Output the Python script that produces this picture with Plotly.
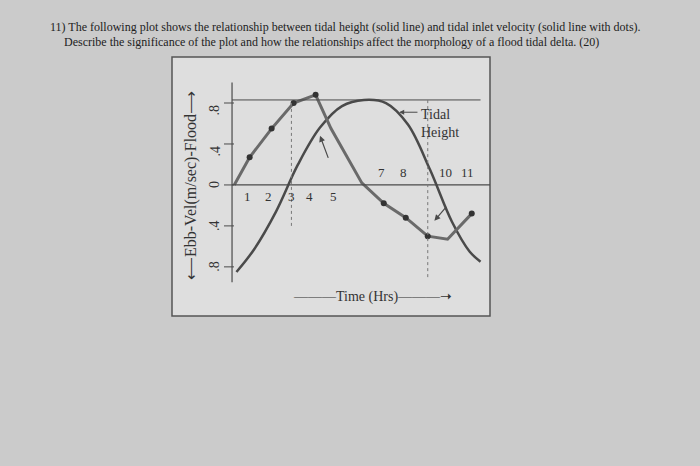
import plotly.graph_objects as go

# ---- data ----
vel_hours = [0.1, 0.8, 1.8, 2.8, 3.8, 4.5, 5.9, 6.9, 7.9, 8.9, 9.8, 10.9]
vel_values = [0.0, 0.27, 0.55, 0.8, 0.88, 0.55, 0.02, -0.18, -0.32, -0.5, -0.53, -0.28]
vel_dot_hours = [0.8, 1.8, 2.8, 3.8, 6.9, 7.9, 8.9, 10.9]
vel_dot_values = [0.27, 0.55, 0.8, 0.88, -0.18, -0.32, -0.5, -0.28]

tide_hours = [0.2, 1, 2, 3, 4, 5, 6, 7, 8, 9, 10, 10.8, 11.3]
tide_values = [-0.85, -0.63, -0.26, 0.2, 0.56, 0.77, 0.83, 0.8, 0.59, 0.15, -0.36, -0.65, -0.75]

yticks = [0.8, 0.4, 0, -0.4, -0.8]
ytick_text = [".8", ".4", "0", ".4", ".8"]
hour_labels_below = ["1", "2", "3", "4", "5"]
hour_pos_below = [0.7, 1.65, 2.7, 3.5, 4.6]
hour_labels_above = ["7", "8", "10", "11"]
hour_pos_above = [6.8, 7.8, 9.7, 10.7]

W, H = 700, 466
def px(x):
    return x / W
def py(y):
    return 1 - y / H

Y0, Y1 = -1.27, 1.22
def vy(v):
    return py(315) + (v - Y0) / (Y1 - Y0) * (py(60) - py(315))

serif = "Liberation Serif"
ink = "#4a4a4a"

fig = go.Figure()
fig.add_trace(go.Scatter(x=tide_hours, y=tide_values, mode="lines",
                         line=dict(color=ink, width=2.5, shape="spline"), hoverinfo="skip"))
fig.add_trace(go.Scatter(x=vel_hours, y=vel_values, mode="lines",
                         line=dict(color="#6a6a6a", width=3), hoverinfo="skip"))
fig.add_trace(go.Scatter(x=vel_dot_hours, y=vel_dot_values, mode="markers",
                         marker=dict(color="#333", size=6), hoverinfo="skip"))

shapes = [
    dict(type="rect", xref="paper", yref="paper", x0=px(172), x1=px(490), y0=py(316), y1=py(57),
         line=dict(color="#555", width=1.5), fillcolor="#dedede", layer="below"),
    dict(type="line", xref="x", yref="y", x0=0, x1=11.8, y0=0, y1=0, line=dict(color=ink, width=1.2)),
    dict(type="line", xref="x", yref="y", x0=0, x1=11.3, y0=0.83, y1=0.83, line=dict(color=ink, width=1)),
    dict(type="line", xref="x", yref="y", x0=2.7, x1=2.7, y0=-0.4, y1=0.83, line=dict(color="#777", width=1, dash="dot")),
    dict(type="line", xref="x", yref="y", x0=8.9, x1=8.9, y0=-0.9, y1=0.83, line=dict(color="#777", width=1, dash="dot")),
    dict(type="line", xref="x", yref="y", x0=0, x1=0, y0=-0.95, y1=1.0, line=dict(color=ink, width=1.2)),
]

ann = [
    dict(xref="paper", yref="paper", x=px(48), y=py(18), text="11) The following plot shows the relationship between tidal height (solid line) and tidal inlet velocity (solid line with dots).",
         showarrow=False, xanchor="left", font=dict(family=serif, size=12, color="#222")),
    dict(xref="paper", yref="paper", x=px(62), y=py(33), text="Describe the significance of the plot and how the relationships affect the morphology of a flood tidal delta. (20)",
         showarrow=False, xanchor="left", font=dict(family=serif, size=12, color="#222")),
    dict(xref="paper", yref="paper", x=px(191), y=py(186), text="⟵Ebb-Vel(m/sec)-Flood⟶", textangle=-90,
         xanchor="center", showarrow=False, font=dict(family=serif, size=16, color="#333")),
    dict(xref="paper", yref="paper", x=px(372), y=py(297), text="———Time (Hrs)———➝",
         showarrow=False, font=dict(family=serif, size=14, color="#333")),
    dict(xref="x", yref="y", x=8.5, y=0.6, text="Tidal<br>Height", align="left", xanchor="left",
         showarrow=False, font=dict(family=serif, size=14, color="#333")),
    dict(xref="x", yref="y", x=7.6, y=0.71, ax=8.5, ay=0.71, axref="x", ayref="y", text="",
         showarrow=True, arrowhead=2, arrowcolor=ink, arrowwidth=1),
    dict(xref="x", yref="y", x=4.0, y=0.48, ax=4.4, ay=0.25, axref="x", ayref="y", text="",
         showarrow=True, arrowhead=2, arrowcolor=ink, arrowwidth=1.2),
    dict(xref="x", yref="y", x=9.2, y=-0.35, ax=9.8, ay=-0.2, axref="x", ayref="y", text="",
         showarrow=True, arrowhead=2, arrowcolor=ink, arrowwidth=1.2),
]
for t, h in zip(hour_labels_below, hour_pos_below):
    ann.append(dict(xref="x", yref="y", x=h, y=-0.11, text=t, showarrow=False,
                    font=dict(family=serif, size=13, color="#333")))
for t, h in zip(hour_labels_above, hour_pos_above):
    ann.append(dict(xref="x", yref="y", x=h, y=0.12, text=t, showarrow=False,
                    font=dict(family=serif, size=13, color="#333")))
for v, t in zip(yticks, ytick_text):
    ann.append(dict(xref="paper", yref="paper", x=px(215), y=vy(v), text=t, showarrow=False, textangle=-90,
                    xanchor="center", font=dict(family=serif, size=14, color="#333")))
    shapes.append(dict(type="line", xref="paper", yref="y", x0=px(224), x1=px(234), y0=v, y1=v,
                       line=dict(color=ink, width=1)))

fig.update_layout(
    width=W, height=H, margin=dict(l=0, r=0, t=0, b=0),
    paper_bgcolor="#cbcbcb", plot_bgcolor="rgba(0,0,0,0)", showlegend=False,
    xaxis=dict(domain=[px(225), px(490)], range=[-0.32, 11.73], visible=False, fixedrange=True),
    yaxis=dict(domain=[py(315), py(60)], range=[Y0, Y1], visible=False, fixedrange=True),
    shapes=shapes, annotations=ann,
)
fig.write_html("out.html", config={"staticPlot": True},
               post_script="document.body.style.margin='0';document.body.style.background='#cbcbcb';")
